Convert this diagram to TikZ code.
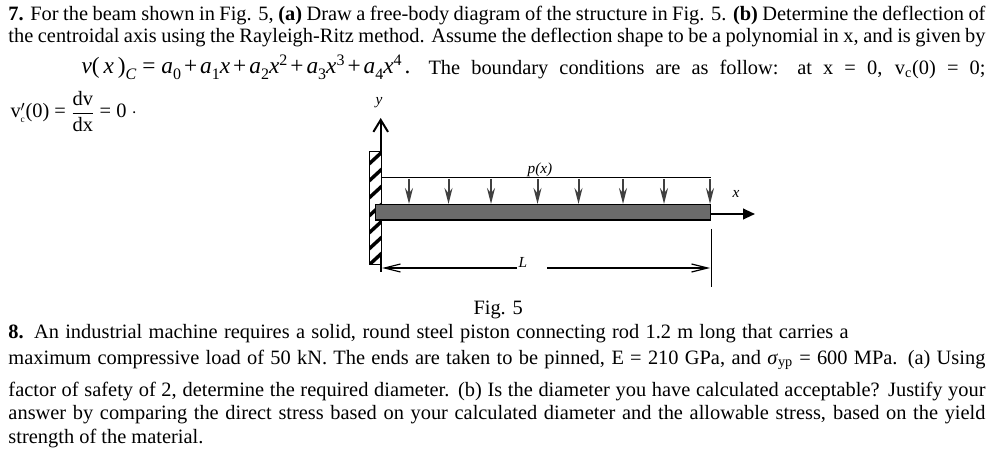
\documentclass[tikz,border=0pt]{standalone}
\usepackage{fontspec}
\setmainfont{Liberation Serif}
\usetikzlibrary{arrows.meta}

\newcommand{\fitline}[2]{\makebox[\dimexpr#1pt*3/4\relax][s]{#2}}
\newcommand{\eqgap}{\hspace{0.5pt plus 1pt}}
\newcommand{\eqsub}[1]{\raisebox{-4.5pt}{\fontsize{12pt}{14pt}\selectfont#1}}
\newcommand{\eqsup}[1]{\raisebox{6pt}{\fontsize{12pt}{14pt}\selectfont#1}}

\tikzset{every picture/.style={line width=0.75pt}}
\tikzset{
  textline/.style={anchor=base west,inner sep=0pt,font=\fontsize{15.3pt}{17pt}\selectfont},
  eqline/.style={anchor=base west,inner sep=0pt,font=\fontsize{17.5pt}{18pt}\selectfont},
  smalllabel/.style={inner sep=0pt,font=\fontsize{11.5pt}{13pt}\selectfont\itshape},
  axisline/.style={line width=1.5pt},
  loadarrow/.style={draw={rgb,255:red,64;green,64;blue,64},line width=1.5pt,-{Stealth[length=12pt,width=6pt,inset=4pt]}},
  dimarrow/.style={line width=1.8pt,-{Straight Barb[length=12pt,width=6pt,line width=0.9pt]}}
}

\begin{document}
\begin{tikzpicture}[x=0.75pt,y=0.75pt,yscale=-1,xscale=1]
	\useasboundingbox (0,0) rectangle (1003,452);

	%Problem 7
	\node[textline] (line1) at (8,21) {\fitline{977}{\textbf{7.} For the beam shown in Fig. 5, \textbf{(a)} Draw a free-body diagram of the structure in Fig. 5. \textbf{(b)} Determine the deflection of}};
	\node[textline] (line2) at (8,43) {\fitline{977}{the centroidal axis using the Rayleigh-Ritz method. Assume the deflection shape to be a polynomial in x, and is given by}};
	\node[eqline] (eqn) at (81,74) {\fitline{329}{\textit{v}(\,\textit{x}\,)\eqsub{\textit{C}}\eqgap\eqgap=\eqgap\eqgap\textit{a}\eqsub{0}\eqgap+\eqgap\textit{a}\eqsub{1}\textit{x}\eqgap+\eqgap\textit{a}\eqsub{2}\textit{x}\eqsup{2}\eqgap+\eqgap\textit{a}\eqsub{3}\textit{x}\eqsup{3}\eqgap+\eqgap\textit{a}\eqsub{4}\textit{x}\eqsup{4}\eqgap.}};
	\node[textline] (line3) at (428,75) {\fitline{557}{The boundary conditions are as follow: at x = 0, v\textsubscript{c}(0) = 0;}};
	\node[textline] (line4) at (10,118) {v$'_{\mbox{\scriptsize c}}$(0) = $\displaystyle\frac{\mbox{dv}}{\mbox{dx}}$ = 0 $\cdot$};

	%Wall
	\draw (369.5,151.5) rectangle (381,264.5);
	\begin{scope}
		\clip (369.5,151.5) rectangle (381,264.5);
		\foreach \hy in {153,170,187,205,222,238,254}{
			\draw[line width=2.6pt] (369,\hy+11) -- (382,\hy-1);
		}
	\end{scope}

	%Beam
	\draw[fill={rgb,255:red,107;green,107;blue,107},line width=1pt] (375.5,204.5) rectangle (710.5,220);

	%Load
	\coordinate (loadleft) at (381,178);
	\coordinate (loadright) at (711,178);
	\draw (loadleft) -- (loadright);
	\foreach \ax [count=\ai] in {409,448.5,491,537.5,578.5,623,664,710}{
		\coordinate (load\ai) at (\ax,179);
		\coordinate (beam\ai) at (\ax,204);
		\draw[loadarrow] (load\ai) -- (beam\ai);
	}

	%Axes
	\coordinate (yfoot) at (380.7,272);
	\coordinate (ywallb) at (380.7,253);
	\coordinate (ywallt) at (380.7,153);
	\coordinate (ytip) at (380.7,118);
	\coordinate (xfoot) at (711,214);
	\coordinate (xtip) at (755,214);
	\draw[axisline] (yfoot) -- (ywallb);
	\draw[axisline,-{Straight Barb[length=9pt,width=11pt]}] (ywallt) -- (ytip);
	\draw[axisline,-{Triangle[length=9pt,width=8pt]}] (xfoot) -- (xtip);

	%Dimension
	\coordinate (tickup) at (711,229);
	\coordinate (tickdown) at (711,287);
	\coordinate (dimleft) at (382,268);
	\coordinate (dimleftend) at (517,268);
	\coordinate (dimrightend) at (547,268);
	\coordinate (dimright) at (710,268);
	\draw (tickup) -- (tickdown);
	\draw[dimarrow] (dimleftend) -- (dimleft);
	\draw[dimarrow] (dimrightend) -- (dimright);

	% Text Node
	\node[smalllabel] (ylabel) at (379,103) {y};
	\node[smalllabel] (xlabel) at (736,194) {x};
	\node[smalllabel] (plabel) at (540,170) {p(x)};
	\node[smalllabel] (llabel) at (523,262) {L};

	%Problem 8
	\node[textline] (figcap) at (473,315) {Fig. 5};
	\node[textline] (line5) at (8,339) {\fitline{840}{\textbf{8.} An industrial machine requires a solid, round steel piston connecting rod 1.2 m long that carries a}};
	\node[textline] (line6) at (8,364) {\fitline{977}{maximum compressive load of 50 kN. The ends are taken to be pinned, E = 210 GPa, and \textit{σ}\textsubscript{yp} = 600 MPa. (a) Using}};
	\node[textline] (line7) at (8,396) {\fitline{977}{factor of safety of 2, determine the required diameter. (b) Is the diameter you have calculated acceptable? Justify your}};
	\node[textline] (line8) at (8,419) {\fitline{977}{answer by comparing the direct stress based on your calculated diameter and the allowable stress, based on the yield}};
	\node[textline] (line9) at (8,443) {strength of the material.};

\end{tikzpicture}
\end{document}
